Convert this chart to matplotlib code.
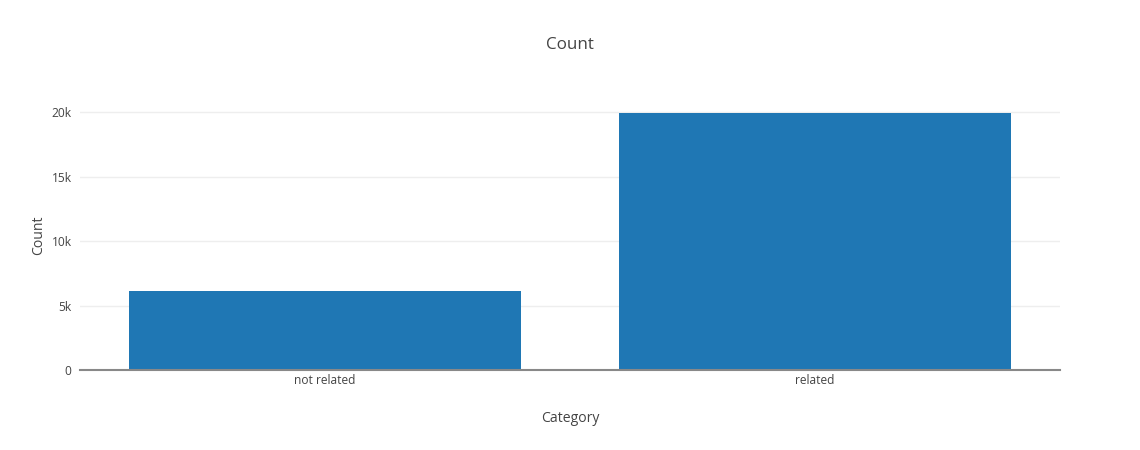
import matplotlib
matplotlib.use("Agg")
import matplotlib.pyplot as plt

categories = ["not related", "related"]
counts = [6122, 19906]
yticks = [0, 5000, 10000, 15000, 20000]
ytick_labels = ["0", "5k", "10k", "15k", "20k"]

plt.rcParams['font.family'] = ['Open Sans', 'DejaVu Sans']
txt = '#444444'
px = 72 / 100

fig = plt.figure(figsize=(11.4, 4.5), dpi=100)
ax = fig.add_axes([80/1140, 80/450, 980/1140, 270/450])

x = list(range(len(categories)))
ax.bar(x, counts, width=0.8, color='#1f77b4', zorder=3)
ax.set_xlim(-0.5, len(categories) - 0.5)
ax.set_ylim(0, max(counts) * 1.0526)

ax.set_yticks(yticks)
ax.set_yticklabels(ytick_labels)
ax.set_xticks(x)
ax.set_xticklabels(categories)

ax.grid(axis='y', color='#eeeeee', linewidth=1, zorder=0)
for s in ['top', 'right', 'left']:
    ax.spines[s].set_visible(False)
ax.spines['bottom'].set_color('#888888')
ax.spines['bottom'].set_linewidth(1.5)
ax.spines['bottom'].set_zorder(4)

ax.tick_params(axis='both', length=0, labelsize=12*px, labelcolor=txt)
ax.tick_params(axis='y', pad=6)
ax.tick_params(axis='x', pad=3)

ax.set_xlabel("Category", fontsize=14*px, color=txt, labelpad=17.5)
ax.set_ylabel("Count", fontsize=14*px, color=txt, labelpad=4)

fig.text(570/1140, 1 - 45/450, "Count", ha='center', va='center', fontsize=17*px, color=txt)

fig.savefig("out.png", dpi=100, facecolor='white')
